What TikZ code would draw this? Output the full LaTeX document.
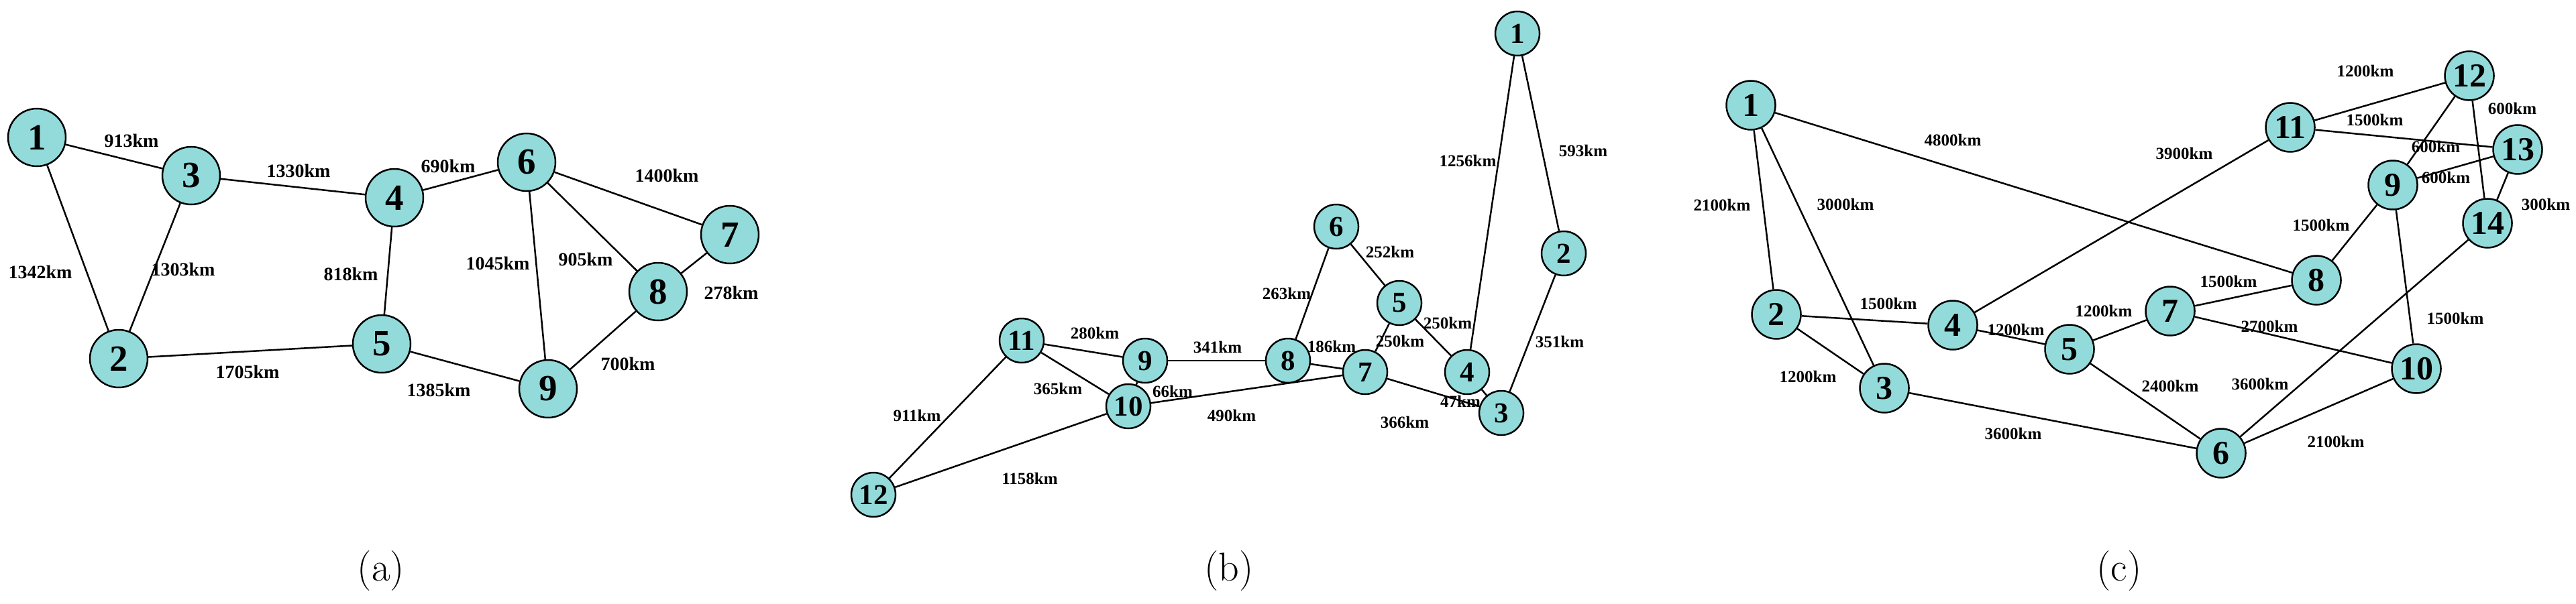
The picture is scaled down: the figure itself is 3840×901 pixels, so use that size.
\documentclass[tikz,border=0pt]{standalone}
\usepackage{fontspec}
\usetikzlibrary{backgrounds}
\newfontfamily\tnr{Liberation Serif}
\definecolor{nodecyan}{HTML}{93DBDB}
\begin{document}
\begin{tikzpicture}[x=1pt,y=-1pt,
  vtx/.style={circle,draw=black,line width=2.5pt,fill=nodecyan,inner sep=0pt,font=\tnr\bfseries},
  va/.style={vtx,minimum size=86pt,font=\tnr\bfseries\fontsize{55}{55}\selectfont},
  vb/.style={vtx,minimum size=66pt,font=\tnr\bfseries\fontsize{43}{43}\selectfont},
  vc/.style={vtx,minimum size=73pt,font=\tnr\bfseries\fontsize{50}{50}\selectfont},
  lbl/.style={font=\tnr\bfseries\fontsize{28}{28}\selectfont,inner sep=1pt},
  lblb/.style={font=\tnr\bfseries\fontsize{25}{25}\selectfont,inner sep=1pt},
  edge/.style={line width=2.5pt},
  captxt/.style={font=\fontsize{60}{60}\selectfont}]
\useasboundingbox (0,0) rectangle (3840,901);
% ---------- (a)
\foreach \n/\x/\y in {1/55/205,3/285/262,4/588/295,6/785/242,7/1088/350,8/981/435,5/569/513,2/177/535,9/817/580}
  \node[va] (a\n) at (\x,\y) {\n};
\begin{scope}[on background layer]
\foreach \u/\v in {1/3,1/2,3/2,3/4,4/6,4/5,2/5,5/9,6/9,6/8,6/7,7/8,8/9}
  \draw[edge] (a\u) -- (a\v);
\end{scope}
\foreach \t/\x/\y in {913km/196/210,1330km/445/255,690km/668/248,1400km/994/262,1342km/60/406,1303km/273/402,818km/523/409,1045km/742/393,905km/873/387,278km/1090/437,1705km/369/555,1385km/654/582,700km/936/543}
  \node[lbl] at (\x,\y) {\t};
\node[captxt] (capa) at (568,852) {(a)};
% ---------- (b)
\foreach \n/\x/\y in {1/2262/50,2/2331/378,6/1992/338,5/2086/452,11/1523/508,9/1707/538,8/1920/538,7/2035/555,4/2187/555,3/2238/616,10/1682/606,12/1302/738}
  \node[vb] (b\n) at (\x,\y) {\n};
\begin{scope}[on background layer]
\foreach \u/\v in {1/4,1/2,2/3,6/8,6/5,5/4,5/7,4/3,7/3,8/7,9/8,11/9,11/10,9/10,10/7,11/12,12/10}
  \draw[edge] (b\u) -- (b\v);
\end{scope}
\foreach \t/\x/\y in {1256km/2188/240,593km/2360/225,252km/2072/376,263km/1918/438,250km/2158/482,250km/2087/509,186km/1985/517,351km/2325/510,280km/1632/497,341km/1815/518,365km/1577/580,66km/1748/584,47km/2177/599,366km/2094/630,490km/1836/620,911km/1367/620,1158km/1535/714}
  \node[lblb] at (\x,\y) {\t};
\node[captxt] (capb) at (1832,852) {(b)};
% ---------- (c)
\foreach \n/\x/\y in {1/2610/157,2/2648/469,3/2809/579,4/2911/485,5/3085/521,7/3235/464,8/3453/418,6/3311/676,10/3602/550,9/3567/276,11/3414/190,12/3681/113,13/3753/223,14/3708/333}
  \node[vc] (c\n) at (\x,\y) {\n};
\begin{scope}[on background layer]
\foreach \u/\v in {1/2,1/3,1/8,2/4,2/3,3/6,4/11,4/5,5/7,5/6,7/8,7/10,8/9,9/12,9/13,9/10,11/12,11/13,12/14,13/14,14/6,6/10}
  \draw[edge] (c\u) -- (c\v);
\end{scope}
\foreach \t/\x/\y in {2100km/2567/306,3000km/2751/305,4800km/2911/209,3900km/3256/229,1200km/3526/106,1500km/3540/179,600km/3745/162,600km/3631/219,600km/3646/265,300km/3795/305,1500km/3460/336,1500km/3322/420,1500km/2815/453,1200km/3136/464,1200km/3005/492,2700km/3383/487,1500km/3660/475,1200km/2695/562,2400km/3235/576,3600km/3369/573,3600km/3001/647,2100km/3482/659}
  \node[lblb] at (\x,\y) {\t};
\node[captxt] (capc) at (3159,852) {(c)};
\end{tikzpicture}
\end{document}
